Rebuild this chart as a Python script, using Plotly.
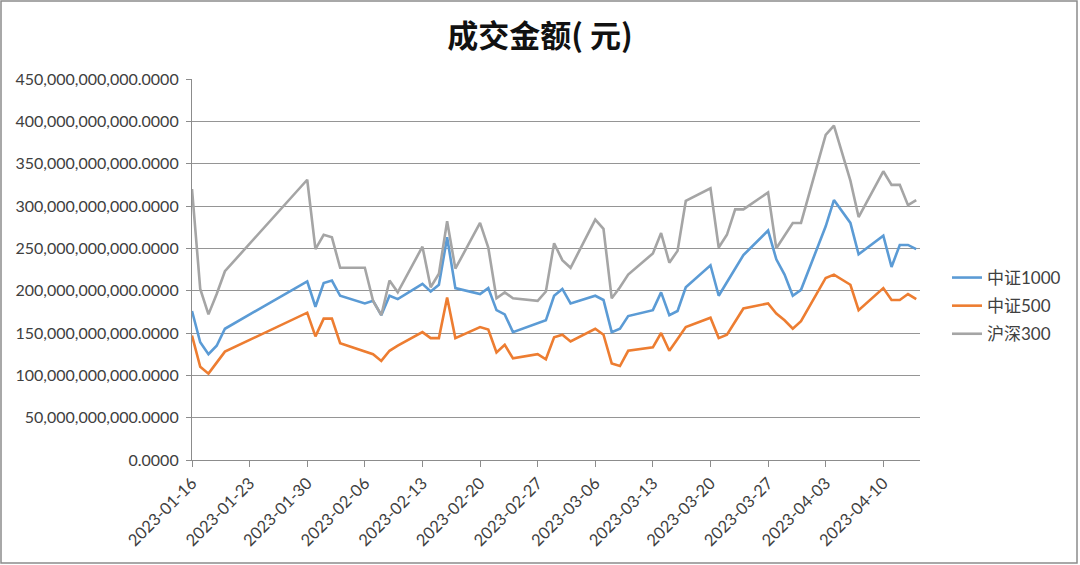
import plotly.graph_objects as go

dates = [
    "2023-01-16", "2023-01-17", "2023-01-18", "2023-01-19", "2023-01-20",
    "2023-01-30", "2023-01-31",
    "2023-02-01", "2023-02-02", "2023-02-03",
    "2023-02-06", "2023-02-07", "2023-02-08", "2023-02-09", "2023-02-10",
    "2023-02-13", "2023-02-14", "2023-02-15", "2023-02-16", "2023-02-17",
    "2023-02-20", "2023-02-21", "2023-02-22", "2023-02-23", "2023-02-24",
    "2023-02-27", "2023-02-28",
    "2023-03-01", "2023-03-02", "2023-03-03",
    "2023-03-06", "2023-03-07", "2023-03-08", "2023-03-09", "2023-03-10",
    "2023-03-13", "2023-03-14", "2023-03-15", "2023-03-16", "2023-03-17",
    "2023-03-20", "2023-03-21", "2023-03-22", "2023-03-23", "2023-03-24",
    "2023-03-27", "2023-03-28", "2023-03-29", "2023-03-30", "2023-03-31",
    "2023-04-03", "2023-04-04", "2023-04-06", "2023-04-07",
    "2023-04-10", "2023-04-11", "2023-04-12", "2023-04-13", "2023-04-14",
]

# values in billions of yuan
csi1000 = [176, 139, 125, 135, 155, 211, 181, 209, 212, 194,
           185, 188, 171, 194, 190, 208, 199, 207, 263, 203,
           196, 203, 177, 172, 151, 161, 165, 194, 202, 185,
           194, 189, 151, 155, 170, 177, 198, 171, 176, 204,
           230, 194, 210, 226, 242, 271, 237, 219, 194, 201,
           276, 307, 280, 243, 265, 228, 254, 254, 249]
csi500 = [147, 110, 102, 115, 128, 174, 146, 167, 167, 138,
          128, 125, 117, 129, 135, 151, 144, 144, 192, 144,
          157, 154, 127, 136, 120, 125, 119, 145, 148, 140,
          155, 148, 114, 111, 129, 133, 150, 129, 143, 157,
          168, 144, 148, 164, 179, 185, 173, 165, 155, 164,
          215, 219, 207, 177, 203, 189, 189, 196, 190]
hs300 = [320, 202, 172, 196, 223, 331, 249, 266, 263, 227,
         227, 188, 171, 212, 198, 252, 204, 220, 282, 226,
         280, 251, 191, 198, 191, 188, 199, 256, 236, 227,
         284, 273, 191, 204, 219, 244, 268, 233, 247, 306,
         321, 251, 266, 296, 296, 316, 250, 265, 280, 280,
         384, 395, 330, 287, 341, 325, 325, 301, 307]

series_names = ["中证1000", "中证500", "沪深300"]
series_values = [csi1000, csi500, hs300]
colors = ["#5B9BD5", "#ED7D31", "#A5A5A5"]

W, H = 1080, 565
L, R, T, B = 192, 160, 79, 105
pw, ph = W - L - R, H - T - B

fig = go.Figure()
for name, vals, c in zip(series_names, series_values, colors):
    fig.add_trace(go.Scatter(
        x=dates, y=[v * 1e9 for v in vals], mode="lines", name=name,
        legendgroup=name,
        line=dict(color=c, width=2.6),
    ))

font_fam = "Lato, Noto Sans CJK SC, sans-serif"
fig.update_layout(
    width=W, height=H,
    margin=dict(l=L, r=R, t=T, b=B),
    paper_bgcolor="white", plot_bgcolor="white",
    title=dict(text="<b>成交金额( 元)</b>", x=0.5, xanchor="center",
               y=1 - 36 / H, yanchor="middle",
               font=dict(family="Noto Sans CJK SC", size=31, color="#111111")),
    font=dict(family=font_fam, size=16, color="#404040"),
    showlegend=True,
    legend=dict(x=(947 - L) / pw, xanchor="left", y=(460 - 260) / ph, yanchor="top",
                tracegroupgap=3, font=dict(family=font_fam, size=17, color="#404040"),
                bgcolor="rgba(0,0,0,0)"),
    xaxis=dict(
        type="date", range=["2023-01-16", "2023-04-14 11:00"],
        tick0="2023-01-16", dtick=7 * 86400000, tickformat="%Y-%m-%d",
        tickangle=-45, ticks="outside", ticklen=6, tickcolor="#8c8c8c",
        showline=True, linecolor="#8c8c8c", linewidth=1.2,
        showgrid=False, zeroline=False,
        tickfont=dict(family=font_fam, size=16.5, color="#404040"),
    ),
    yaxis=dict(
        range=[0, 450e9], dtick=50e9, tick0=0, tickformat=",.4f",
        ticks="outside", ticklen=5, tickcolor="#8c8c8c",
        ticklabelstandoff=4,
        showline=True, linecolor="#8c8c8c", linewidth=1.2,
        showgrid=True, gridcolor="#959595", gridwidth=1.3, zeroline=False,
        tickfont=dict(family=font_fam, size=16, color="#404040"),
    ),
)

# outer chart frame
fig.add_shape(type="rect", xref="paper", yref="paper",
              x0=(1 - L) / pw, x1=(1077 - L) / pw,
              y0=-(563 - (T + ph)) / ph, y1=1 + (T - 1) / ph,
              line=dict(color="#8c8c8c", width=1.5), fillcolor="rgba(0,0,0,0)",
              layer="below")

fig.write_html("out.html")
